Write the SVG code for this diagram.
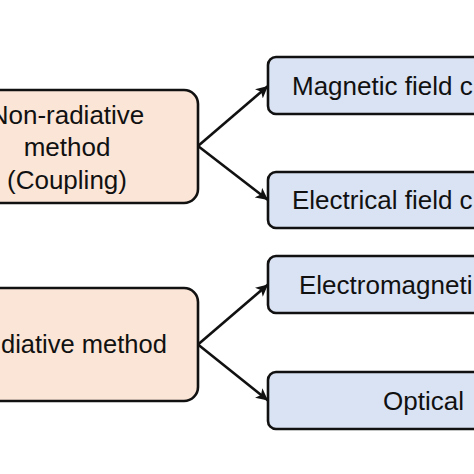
<svg xmlns="http://www.w3.org/2000/svg" width="474" height="474" viewBox="0 0 474 474">
<style>
.lbox{fill:#fbe5d6;stroke:#111;stroke-width:2.6}
.rbox{fill:#dae3f3;stroke:#111;stroke-width:2.6}
.lt{font-family:"Liberation Sans",Arial,sans-serif;font-size:26px;fill:#111}
.rt{font-family:"Liberation Sans",Arial,sans-serif;font-size:26px;fill:#111}
.conn{stroke:#111;stroke-width:2.6;fill:none;marker-end:url(#ah)}
</style>
<defs>
<marker id="ah" markerUnits="userSpaceOnUse" markerWidth="14" markerHeight="12" refX="12" refY="6" orient="auto">
<path d="M0,0 L12,6 L0,12 L3,6 Z" fill="#111"/>
</marker>
</defs>
<rect width="474" height="474" fill="#fff"/>
<g id="connectors">
<line class="conn" x1="198" y1="146" x2="268" y2="86"/>
<line class="conn" x1="198" y1="146" x2="268" y2="200"/>
<line class="conn" x1="198" y1="344.5" x2="268" y2="284.5"/>
<line class="conn" x1="198" y1="344.5" x2="268" y2="400.5"/>
</g>
<g id="nonradiative">
<rect class="lbox" x="-60" y="90" width="258" height="113" rx="14"/>
<text class="lt" x="67" y="124" text-anchor="middle">Non-radiative</text>
<text class="lt" x="67" y="156" text-anchor="middle">method</text>
<text class="lt" x="67" y="189" text-anchor="middle">(Coupling)</text>
</g>
<g id="radiative">
<rect class="lbox" x="-60" y="288" width="258" height="113" rx="14"/>
<text class="lt" x="1" y="353" style="font-size:25.5px">diative method</text>
</g>
<g id="magnetic">
<rect class="rbox" x="268" y="57" width="260" height="57" rx="8"/>
<text class="rt" x="292" y="95">Magnetic field c</text>
</g>
<g id="electrical">
<rect class="rbox" x="268" y="172" width="260" height="56" rx="8"/>
<text class="rt" x="292" y="209">Electrical field c</text>
</g>
<g id="electromagnetic">
<rect class="rbox" x="268" y="256" width="260" height="57" rx="8"/>
<text class="rt" x="299" y="294">Electromagneti</text>
</g>
<g id="optical">
<rect class="rbox" x="268" y="372" width="260" height="57" rx="8"/>
<text class="rt" x="383" y="410">Optical</text>
</g>
</svg>
